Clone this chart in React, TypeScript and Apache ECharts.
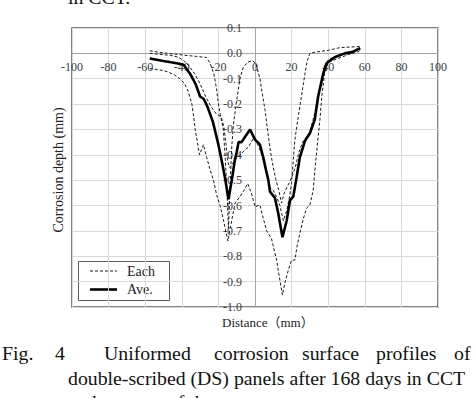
import React, { useEffect, useRef } from "react";
import * as echarts from "echarts";

// x = distance (mm), y = corrosion depth (mm)
const xTicks = { min: -100, max: 100, step: 20 };
const yTicks = { min: -1.0, max: 0.1, step: 0.1 };

const eachA: [number, number][] = [
  [-57.5, -0.06], [-52, -0.065], [-48, -0.072], [-44, -0.085], [-41, -0.1], [-38.5, -0.12],
  [-36.5, -0.15], [-34.5, -0.2], [-33.5, -0.25], [-32.7, -0.3], [-31.5, -0.35], [-30.3, -0.4],
  [-28.2, -0.36], [-26.4, -0.41], [-24.5, -0.46], [-22.7, -0.5], [-20.9, -0.56], [-19.1, -0.6],
  [-17.3, -0.655], [-16, -0.7], [-14.8, -0.74], [-13.5, -0.69], [-12.5, -0.65], [-10.9, -0.59],
  [-8.2, -0.565], [-6, -0.54], [-4, -0.513], [-2, -0.55], [0, -0.605], [2.7, -0.598],
  [4.5, -0.65], [6.4, -0.7], [9, -0.73], [11.8, -0.815], [13.5, -0.89], [15, -0.953],
  [16.5, -0.9], [18.2, -0.855], [20, -0.815], [21.8, -0.815], [23, -0.76], [24.5, -0.71],
  [26.5, -0.65], [28.2, -0.61], [30, -0.598], [31.8, -0.54], [33, -0.44], [34.5, -0.33],
  [35.5, -0.26], [36.5, -0.17], [38, -0.08], [40, -0.035], [45.5, -0.02], [51, -0.005],
  [56.4, 0.006], [58, 0.015],
];

const eachB: [number, number][] = [
  [-57.5, 0.01], [-52, 0.004], [-45, -0.002], [-39, -0.007], [-32, -0.012], [-26.5, -0.016],
  [-24.5, -0.04], [-22.5, -0.08], [-21, -0.14], [-20, -0.2], [-19, -0.24], [-17.3, -0.3],
  [-16.2, -0.42], [-15.2, -0.56], [-14.5, -0.69], [-13.6, -0.52], [-12.8, -0.38], [-11.8, -0.28],
  [-10, -0.184], [-8.2, -0.1], [-6.4, -0.055], [-4, -0.035], [-1.5, -0.028], [0.5, -0.04],
  [2.7, -0.1], [4, -0.16], [5.5, -0.224], [7, -0.31], [8.5, -0.39], [10, -0.45], [11.5, -0.5],
  [13, -0.54], [14.5, -0.59], [16, -0.55], [18, -0.52], [20, -0.49], [22, -0.45], [24, -0.39],
  [26, -0.35], [28, -0.33], [30, -0.31], [32.5, -0.24], [35, -0.15], [37.5, -0.065],
  [40, -0.025], [45, -0.01], [50, 0.0], [54, 0.008], [57.5, 0.02],
];

const eachC: [number, number][] = [
  [-57.5, 0.0], [-52, -0.004], [-46, -0.008], [-42, -0.015], [-39, -0.028], [-36, -0.05],
  [-33, -0.08], [-30, -0.12], [-27, -0.17], [-24, -0.21], [-21, -0.24], [-18.5, -0.25],
  [-17, -0.29], [-15.8, -0.36], [-15, -0.42], [-14, -0.45], [-12.7, -0.44], [-10, -0.41],
  [-7.3, -0.395], [-5.5, -0.38], [-3.6, -0.37], [-0.9, -0.335], [1, -0.35], [2.7, -0.38],
  [4.5, -0.42], [6.4, -0.46], [8.2, -0.53], [10, -0.54], [12, -0.57], [13.6, -0.6],
  [15.5, -0.66], [17.3, -0.62], [19, -0.56], [20, -0.51], [20.9, -0.42], [21.8, -0.34],
  [23, -0.28], [24.5, -0.21], [26, -0.14], [27.3, -0.08], [28.5, -0.03], [30, 0.0],
  [34, 0.006], [40, 0.012], [46, 0.022], [52, 0.025], [57.5, 0.027],
];

const average: [number, number][] = [
  [-57.5, -0.02], [-50, -0.03], [-42, -0.04], [-39, -0.045], [-35.5, -0.08], [-32.5, -0.12],
  [-30, -0.17], [-28, -0.18], [-26, -0.21], [-23, -0.27], [-20, -0.36], [-18, -0.43],
  [-16.4, -0.49], [-14.5, -0.575], [-12.7, -0.5], [-11, -0.42], [-10, -0.39], [-9, -0.35],
  [-7.3, -0.35], [-5.5, -0.33], [-2.7, -0.3], [0, -0.34], [2.7, -0.36], [4.5, -0.41],
  [6, -0.46], [7.3, -0.5], [8.2, -0.545], [10.9, -0.57], [12.7, -0.63], [15, -0.725],
  [17.3, -0.66], [19.1, -0.58], [20.9, -0.565], [22.7, -0.49], [24.5, -0.41], [27.3, -0.345],
  [30, -0.315], [32.7, -0.26], [34.5, -0.17], [37.3, -0.08], [39, -0.04], [43.5, -0.015],
  [49, 0.0], [53, 0.005], [57.5, 0.02],
];

const legendNames = ["Each", "Ave."];
const xTitle = "Distance（mm）";
const yTitle = "Corrosion depth (mm)";
const captionTop = "in CCT.";
const caption1: [string, number][] = [
  ["Fig.", 2], ["4", 55], ["Uniformed", 104], ["corrosion", 214], ["surface", 302],
  ["profiles", 376], ["of", 454],
];
const caption2 = "double-scribed (DS) panels after 168 days in CCT";
const caption3 = "and average of them";

const SERIF = "Liberation Serif";

const GRID = { left: 72, top: 28, width: 366, height: 279 };

export default function App() {
  const ref = useRef<HTMLDivElement>(null);
  useEffect(() => {
    if (!ref.current) return;
    const chart = echarts.init(ref.current, undefined, { renderer: "svg" });
    const dashed = { type: [3, 2], width: 1, color: "#1a1a1a" };
    const zeroY = GRID.height * (yTicks.max / (yTicks.max - yTicks.min)); // from top
    const zeroX = GRID.width * ((0 - xTicks.min) / (xTicks.max - xTicks.min)); // from left
    const capText = (text: string, x: number, y: number) => ({
      type: "text",
      x,
      y,
      style: { text, font: `19.8px ${SERIF}`, fill: "#111", textAlign: "left", textVerticalAlign: "middle" },
    });
    const lx = 78.5, ly = 261.5;
    const graphic: any[] = [
      {
        type: "text",
        x: 58,
        y: 170,
        rotation: Math.PI / 2,
        style: { text: yTitle, font: `14px ${SERIF}`, fill: "#222", textAlign: "center", textVerticalAlign: "middle" },
      },
      {
        type: "text",
        x: 222,
        y: 322,
        style: { text: xTitle, font: `13px ${SERIF}, Noto Sans CJK JP`, fill: "#222", textAlign: "left", textVerticalAlign: "middle" },
      },
      capText(captionTop, 68, -3),
      ...caption1.map(([t, x]) => capText(t, x, 352.5)),
      capText(caption2, 68, 377.5),
      capText(caption3, 68, 402),
      {
        type: "group",
        z: 100,
        children: [
          { type: "rect", shape: { x: lx, y: ly, width: 91, height: 39 }, style: { fill: "#fff", stroke: "#5a5a5a", lineWidth: 1 } },
          { type: "line", shape: { x1: 90, y1: 271, x2: 117, y2: 271 }, style: { stroke: "#1a1a1a", lineWidth: 1, lineDash: [3, 2] } },
          { type: "line", shape: { x1: 90, y1: 289.5, x2: 117, y2: 289.5 }, style: { stroke: "#000", lineWidth: 2.6 } },
          { type: "text", x: 127, y: 271, style: { text: legendNames[0], font: `14px ${SERIF}`, fill: "#222", textVerticalAlign: "middle" } },
          { type: "text", x: 127, y: 289, style: { text: legendNames[1], font: `14px ${SERIF}`, fill: "#222", textVerticalAlign: "middle" } },
        ],
      },
    ];
    chart.setOption({
      animation: false,
      backgroundColor: "#fff",
      grid: { ...GRID, show: true, borderColor: "#5a5a5a", borderWidth: 1.5 },
      xAxis: {
        type: "value",
        min: xTicks.min,
        max: xTicks.max,
        interval: xTicks.step,
        position: "bottom",
        offset: -(GRID.height - zeroY),
        axisLine: { show: true, onZero: false, lineStyle: { color: "#a6a6a6", width: 1 } },
        axisTick: { show: false },
        axisLabel: { margin: 8, color: "#404040", fontFamily: SERIF, fontSize: 12 },
        splitLine: { show: true, lineStyle: { color: "#d9d9d9", width: 1 } },
      },
      yAxis: {
        type: "value",
        min: yTicks.min,
        max: yTicks.max,
        interval: yTicks.step,
        position: "left",
        offset: -zeroX,
        axisLine: { show: true, onZero: false, lineStyle: { color: "#a6a6a6", width: 1 } },
        axisTick: { show: false },
        axisLabel: {
          margin: 13,
          color: "#404040",
          fontFamily: SERIF,
          fontSize: 12,
          showMinLabel: true,
          showMaxLabel: true,
          formatter: (v: number) => (Math.abs(v) < 1e-9 ? "0.0" : v.toFixed(1)),
        },
        splitLine: { show: true, lineStyle: { color: "#d9d9d9", width: 1 } },
      },
      series: [
        { name: legendNames[0], type: "line", data: eachA, symbol: "none", lineStyle: dashed },
        { name: legendNames[0], type: "line", data: eachB, symbol: "none", lineStyle: dashed },
        { name: legendNames[0], type: "line", data: eachC, symbol: "none", lineStyle: dashed },
        { name: legendNames[1], type: "line", data: average, symbol: "none", lineStyle: { width: 2.6, color: "#000" } },
      ],
      graphic,
    });
    return () => chart.dispose();
  }, []);
  return <div ref={ref} style={{ position: "fixed", left: 0, top: 0, width: 474, height: 398 }} />;
}
